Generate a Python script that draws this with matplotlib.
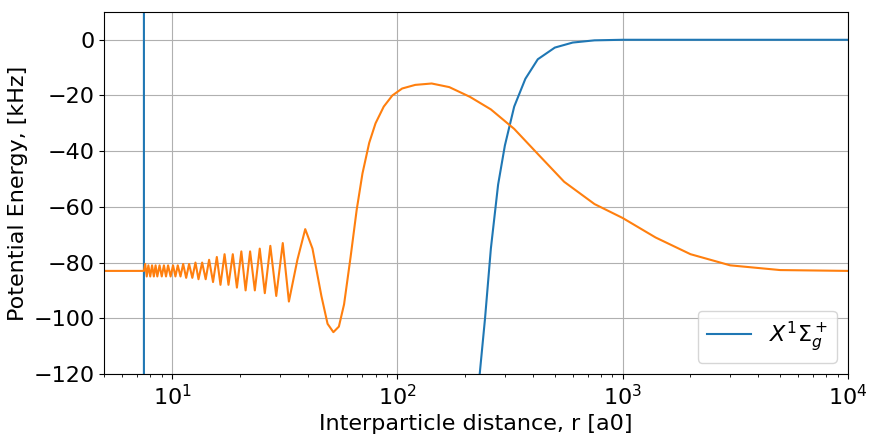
import numpy as np
import matplotlib
matplotlib.use("Agg")
import matplotlib.pyplot as plt

# Potential curve (blue), NaN separates the inner wall from the outer branch
pot_r = [7.5, 7.5, np.nan, 232, 245, 260, 280, 300, 330, 370, 420, 500, 600, 750, 1000, 3000, 10000]
pot_E = [10, -120, np.nan, -120, -100, -75, -52, -38, -24, -14, -7, -2.8, -1.0, -0.2, 0, 0, 0]

# Wavefunction offset (orange)
wf_r = [5, 7.5, 7.6, 7.72, 7.85, 8.0, 8.15, 8.3, 8.45, 8.6, 8.8, 9.0, 9.2, 9.4, 9.6, 9.85, 10.1,
        10.35, 10.6, 10.9, 11.2, 11.55, 11.9, 12.3, 12.7, 13.1, 13.6, 14.1, 14.6, 15.2, 15.8,
        16.4, 17.1, 17.8, 18.6, 19.4, 20.3, 21.2, 22.2, 23.3, 24.5, 25.8, 27.3, 29.0, 31.0,
        33.0, 36.0, 39.0, 42.0, 46.0, 49.0, 52.0, 55.0, 58.0, 62.0, 66.0, 70.0, 75.0, 80.0,
        87.0, 95.0, 105.0, 120.0, 142.0,
        170.0, 210.0, 260.0, 330.0, 420.0, 550.0, 750.0, 1000.0, 1400.0, 2000.0, 3000.0,
        5000.0, 10000.0]
wf_E = [-83, -83, -80.5, -85, -81, -85, -81, -85, -81, -85, -81, -85, -81, -85, -81, -85, -81,
        -85, -81, -85, -80.5, -85.5, -80.5, -85.5, -80, -86, -80, -86, -79, -87, -78,
        -88, -77, -88, -77, -89, -76, -90, -76, -90, -75, -91, -74, -92, -73,
        -94, -79, -68, -75, -92, -102, -105, -103, -95, -78, -61, -48, -37, -30,
        -24, -20, -17.5, -16.2, -15.7,
        -17, -20.5, -25, -32, -41, -51, -59, -64, -71, -77, -81, -82.7, -83]

plt.figure(figsize=(8.76, 4.42), dpi=100)
ax = plt.gca()
ax.plot(pot_r, pot_E, color="#1f77b4", label=r"$X^1\Sigma_g^+$")
ax.plot(wf_r, wf_E, color="#ff7f0e")
ax.set_xscale("log")
ax.set_xlim(5, 1e4)
ax.set_ylim(-120, 10)
ax.set_yticks([0, -20, -40, -60, -80, -100, -120])
ax.grid(True)
ax.tick_params(labelsize=16)
ax.set_xlabel("Interparticle distance, r [a0]", fontsize=16)
ax.set_ylabel("Potential Energy, [kHz]", fontsize=16)
ax.legend(loc="lower right", fontsize=16)
plt.subplots_adjust(left=0.119, right=0.968, top=0.973, bottom=0.154)
plt.savefig("out.png", dpi=100)
